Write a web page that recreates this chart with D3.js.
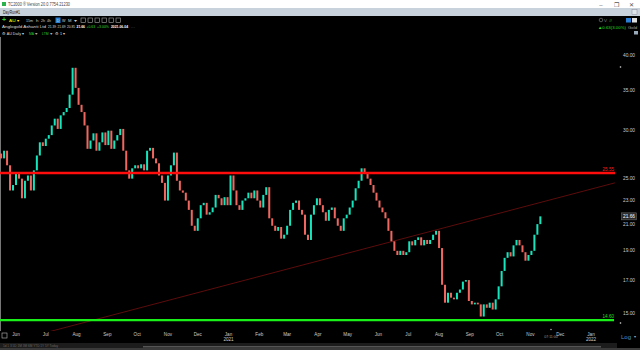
<!DOCTYPE html>
<html>
<head>
<meta charset="utf-8">
<script src="https://cdn.jsdelivr.net/npm/d3@7"></script>
<style>
  body { margin: 0; background: #000; }
  svg { display: block; font-family: "Liberation Sans", Arial, sans-serif; }
</style>
</head>
<body>
<div id="chart"></div>
<script>
// daily closes, every ~3 calendar days (May 2020 -> Nov 2021)
var startDate = new Date(2020, 4, 17);
var stepDays = 3;
var closes = [
  27.0, 27.8, 26.3, 23.9, 24.4, 25.6, 25.0, 23.2, 24.8, 25.3, 23.9, 25.8, 27.3, 28.7, 28.3, 29.1,
  29.5, 30.6, 31.4, 30.2, 31.8, 32.2, 32.7, 34.4, 38.1, 35.3, 33.1, 32.2, 30.6, 28.0, 28.9, 29.7,
  27.8, 28.7, 29.8, 28.4, 30.0, 28.0, 28.9, 29.5, 30.2, 27.8, 25.8, 25.0, 26.0, 26.3, 26.0, 26.4,
  25.8, 27.8, 28.1, 27.0, 26.5, 25.3, 24.6, 23.0, 25.3, 26.3, 27.6, 24.8, 23.9, 23.7, 23.0, 22.2,
  20.9, 20.5, 21.5, 22.6, 22.8, 21.8, 22.0, 22.4, 23.5, 23.2, 22.6, 23.3, 22.6, 25.3, 23.9, 22.6,
  22.2, 23.0, 23.2, 23.7, 23.2, 23.9, 23.0, 22.4, 23.5, 24.2, 21.5, 20.9, 20.5, 20.8, 19.9, 20.2,
  20.9, 22.2, 22.8, 23.0, 22.2, 21.8, 20.2, 19.8, 21.8, 22.6, 23.2, 22.6, 22.0, 21.3, 22.2, 22.4,
  21.5, 20.9, 20.5, 21.5, 21.8, 22.4, 23.0, 24.1, 24.8, 26.0, 25.6, 25.0, 24.4, 23.7, 23.0, 22.4,
  22.0, 21.5, 20.5, 19.7, 19.0, 18.7, 19.0, 18.7, 18.9, 19.7, 19.4, 19.8, 20.0, 19.4, 19.8, 19.5,
  19.8, 20.2, 20.5, 19.2, 16.7, 15.6, 16.2, 15.9, 15.8, 16.2, 16.4, 16.9, 17.0, 15.7, 15.5, 15.6,
  15.5, 14.8, 15.5, 15.3, 15.6, 15.2, 15.8, 16.6, 17.6, 18.5, 18.9, 18.6, 19.4, 19.8, 19.4, 18.9,
  18.3, 18.7, 19.0, 20.2, 21.03, 21.66
];
var firstOpen = 27.5;

var priceTicks = [40, 35, 30, 25, 23, 21, 19, 17, 15];
var monthNames = ["Jun", "Jul", "Aug", "Sep", "Oct", "Nov", "Dec", "Jan", "Feb", "Mar", "Apr",
                  "May", "Jun", "Jul", "Aug", "Sep", "Oct", "Nov", "Dec", "Jan"];
var resistance = 25.55;
var support = 14.60;
var trendLine = [[new Date(2020, 6, 3), 13.95], [new Date(2022, 0, 25), 24.6]];
var lastPrice = 21.66;

var W = 640, H = 350;
var plotRight = 616, plotTop = 37, plotBottom = 331;

var svg = d3.select("#chart").append("svg")
  .attr("width", W).attr("height", H);

var x = d3.scaleTime()
  .domain([new Date(2020, 5, 1), new Date(2022, 0, 1)])
  .range([16, 591]);
var y = d3.scaleLog()
  .domain([15, 40])
  .range([313, 55]);

var data = closes.map(function (c, i) {
  return {
    date: d3.timeDay.offset(startDate, i * stepDays),
    open: i === 0 ? firstOpen : closes[i - 1],
    close: c
  };
});

// small helper: text squeezed into a given width
function label(g, txt, x0, y0, w, fill, size) {
  return g.append("text").attr("x", x0).attr("y", y0)
    .attr("font-size", size || 4.4).attr("fill", fill)
    .attr("textLength", w).attr("lengthAdjust", "spacingAndGlyphs")
    .text(txt);
}

// window chrome
svg.append("rect").attr("width", W).attr("height", 8).attr("fill", "#fff");
svg.append("rect").attr("x", 2).attr("y", 2).attr("width", 4).attr("height", 4).attr("fill", "#2bb24c");
label(svg, "TC2000 ® Version 20.0.7754.21230", 8, 6, 62, "#444", 4.5);
[["–", 601], ["❐", 616], ["✕", 631]].forEach(function (b) {
  svg.append("text").attr("x", b[1]).attr("y", 6.5).attr("font-size", 6).attr("fill", "#555")
    .attr("text-anchor", "middle").text(b[0]);
});
svg.append("rect").attr("y", 8).attr("width", W).attr("height", 8).attr("fill", "#c8d2dd");
label(svg, "DayRun#1", 3, 14, 17, "#222", 4.8);
svg.append("rect").attr("x", 632).attr("y", 9.5).attr("width", 5).attr("height", 5)
  .attr("fill", "#dde4ea").attr("stroke", "#889").attr("stroke-width", 0.5);

// toolbar
var tb = svg.append("g");
tb.append("text").attr("x", 2).attr("y", 22).attr("fill", "#3c3").attr("font-size", 7).attr("font-weight", "bold").text("+");
label(tb, "AU ▾", 9, 21.5, 10, "#ff0");
tb.append("rect").attr("x", 55.5).attr("y", 17.5).attr("width", 5).attr("height", 5.5).attr("fill", "#2a7fd4");
[["15m", 26, 7], ["h", 36, 2.5], ["2h", 41, 4], ["4h", 47, 4], ["D", 56.5, 3], ["W", 62, 3.5],
 ["M", 68, 3.5], ["▾", 74, 3]].forEach(function (t) {
  label(tb, t[0], t[1], 21.5, t[2], "#ccc", 3.8);
});
[81, 88, 95, 102, 109, 116].forEach(function (ix) {
  tb.append("rect").attr("x", ix).attr("y", 18).attr("width", 4.5).attr("height", 4.5)
    .attr("fill", "none").attr("stroke", "#aaa").attr("stroke-width", 0.6);
});
var hdr = [["Anglogold Ashanti Ltd", 2, 44, "#ddd"], ["21.39", 48, 8, "#ddd"], ["21.69", 57.5, 8, "#ddd"],
           ["20.85", 67, 8, "#ddd"], ["21.66", 76.5, 8.5, "#fff"], ["+0.63", 86.5, 8.5, "#3d3"],
           ["+3.00%", 97, 12, "#3d3"], ["2021-06-04", 111, 17, "#fff"], ["...", 131, 4, "#888"]];
hdr.forEach(function (h) {
  label(tb, h[0], h[1], 28, h[2], h[3], 3.6).attr("font-weight", h[3] === "#fff" ? "bold" : null);
});
[["⚙ AU Daily ▾", 2, 22, "#ddd"], ["MA", 29, 5, "#3c3"], ["▾", 35, 2.5, "#aaa"],
 ["LTM", 42, 6.5, "#3c3"], ["▾", 49.5, 2.5, "#aaa"], ["⚙ 1 ▾", 55, 10, "#ddd"]].forEach(function (h) {
  label(tb, h[0], h[1], 34.5, h[2], h[3], 3.8);
});
tb.append("circle").attr("cx", 601).attr("cy", 20).attr("r", 1.8).attr("fill", "none").attr("stroke", "#888").attr("stroke-width", 0.6);
label(tb, "V", 604, 21.5, 3, "#888");
label(tb, "#", 609, 21.5, 3, "#3c3");
tb.append("rect").attr("x", 626).attr("y", 18).attr("width", 5).attr("height", 4.5).attr("fill", "#2a7fd4");
tb.append("rect").attr("x", 632).attr("y", 18).attr("width", 5).attr("height", 4.5).attr("fill", "#ddd");
label(tb, "▲0.63(3.00%)", 598, 28.5, 28, "#2d2");
label(tb, "Gold", 628, 28.5, 9, "#aaa");
tb.append("rect").attr("x", 634).attr("y", 31).attr("width", 4).attr("height", 3.5).attr("fill", "#9ab");

// plot
svg.append("defs").append("clipPath").attr("id", "plot")
  .append("rect").attr("x", 0).attr("y", plotTop).attr("width", plotRight).attr("height", plotBottom - plotTop);
svg.append("line").attr("x1", 0.5).attr("x2", 0.5).attr("y1", plotTop).attr("y2", plotBottom)
  .attr("stroke", "#777");

var plot = svg.append("g").attr("clip-path", "url(#plot)");

plot.append("line")
  .attr("x1", x(trendLine[0][0])).attr("y1", y(trendLine[0][1]))
  .attr("x2", x(trendLine[1][0])).attr("y2", y(trendLine[1][1]))
  .attr("stroke", "#5c0c0c").attr("stroke-width", 1);

plot.selectAll("rect.candle")
  .data(data)
  .enter().append("rect")
  .attr("class", "candle")
  .attr("x", function (d) { return x(d.date) - 1; })
  .attr("width", 2)
  .attr("y", function (d) { return y(Math.max(d.open, d.close)); })
  .attr("height", function (d) { return Math.max(1, Math.abs(y(d.open) - y(d.close))); })
  .attr("fill", function (d) { return d.close >= d.open ? "#14e6be" : "#f0675f"; });

plot.append("line").attr("x1", 0).attr("x2", plotRight - 1)
  .attr("y1", y(resistance)).attr("y2", y(resistance))
  .attr("stroke", "#ff0d0d").attr("stroke-width", 2.5);
plot.append("line").attr("x1", 0).attr("x2", plotRight - 2)
  .attr("y1", y(support)).attr("y2", y(support))
  .attr("stroke", "#19f019").attr("stroke-width", 2.2);
svg.append("text").attr("x", 614).attr("y", y(resistance) - 2).attr("text-anchor", "end")
  .attr("font-size", 4.6).attr("fill", "#e22").text(resistance.toFixed(2));
svg.append("text").attr("x", 614).attr("y", y(support) - 2).attr("text-anchor", "end")
  .attr("font-size", 4.6).attr("fill", "#2d2").text(support.toFixed(2));

// price axis
var ya = svg.append("g").attr("font-size", 4.8).attr("fill", "#ccc");
priceTicks.forEach(function (p) {
  ya.append("text").attr("x", 629).attr("y", y(p) + 1.6).attr("text-anchor", "middle").text(p.toFixed(2));
});
ya.append("rect").attr("x", 621.5).attr("y", y(lastPrice) - 3.5).attr("width", 15).attr("height", 7)
  .attr("fill", "#2a2a2a").attr("stroke", "#777").attr("stroke-width", 0.5);
ya.append("text").attr("x", 629).attr("y", y(lastPrice) + 1.7).attr("text-anchor", "middle")
  .attr("fill", "#fff").text(lastPrice.toFixed(2));
svg.append("circle").attr("cx", 620.5).attr("cy", 67).attr("r", 0.8).attr("fill", "#ddd");
svg.append("circle").attr("cx", 620.5).attr("cy", 323).attr("r", 0.8).attr("fill", "#ddd");

// date axis
var months = d3.timeMonth.range(new Date(2020, 5, 1), new Date(2022, 0, 2));
var xa = svg.append("g").attr("font-size", 4.6).attr("fill", "#ccc").attr("text-anchor", "middle");
months.forEach(function (m, i) {
  xa.append("text").attr("x", x(m)).attr("y", 335.5).text(monthNames[i]);
  if (m.getMonth() === 0) {
    xa.append("text").attr("x", x(m)).attr("y", 341).text(m.getFullYear());
  }
});
xa.append("text").attr("x", 551).attr("y", 338).attr("font-size", 3.5).attr("fill", "#999").text("07:11:00");
svg.append("circle").attr("cx", 551).attr("cy", 329.5).attr("r", 0.7).attr("fill", "#ccc");
svg.append("rect").attr("x", 2).attr("y", 333).attr("width", 5).attr("height", 5)
  .attr("fill", "none").attr("stroke", "#bbb").attr("stroke-width", 0.6);
svg.append("text").attr("x", 621).attr("y", 339).attr("font-size", 6).attr("fill", "#4a8fc4").text("Log");
svg.append("text").attr("x", 634).attr("y", 338).attr("font-size", 4).attr("fill", "#aaa").text("▾");

// scroll bar
svg.append("rect").attr("x", 0).attr("y", 343).attr("width", 617).attr("height", 5).attr("fill", "#1c1c1c");
svg.append("rect").attr("x", 143).attr("y", 346).attr("width", 458).attr("height", 1.5).attr("fill", "#555");
label(svg, "1d  1  3  5D  1M  3M  6M  YTD  1Y  5Y  Today", 3, 347, 55, "#666", 3);
svg.append("rect").attr("x", 0).attr("y", 348).attr("width", W).attr("height", 2).attr("fill", "#3a3a3a");
</script>
</body>
</html>
